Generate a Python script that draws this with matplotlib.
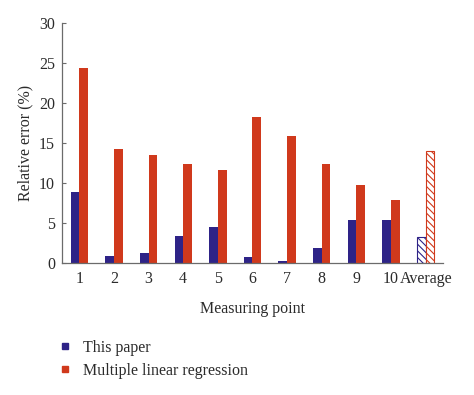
import matplotlib
matplotlib.use("Agg")
import matplotlib.pyplot as plt
import numpy as np
from matplotlib.lines import Line2D

BLUE, RED = "#2e2387", "#d0391c"
AXC, TXT = "#6b6b6b", "#2b2b2b"

points = ["1", "2", "3", "4", "5", "6", "7", "8", "9", "10"]
this_paper = [8.8, 0.8, 1.2, 3.4, 4.5, 0.7, 0.2, 1.8, 5.3, 5.3]
mlr = [24.4, 14.2, 13.45, 12.35, 11.6, 18.3, 15.9, 12.4, 9.7, 7.85]
avg_this_paper = 3.2
avg_mlr = 14.0
avg_label = "Average"

plt.rcParams["font.family"] = ["Liberation Serif", "DejaVu Serif"]
plt.rcParams["font.size"] = 11.5
plt.rcParams["hatch.linewidth"] = 0.8

fig = plt.figure(figsize=(4.74, 3.95), dpi=100)
ax = fig.add_axes([0.1308, 0.335, 0.9346 - 0.1308, 0.941 - 0.335])

x = np.arange(1, len(points) + 1)
w = 0.25
ax.bar(x - w / 2, this_paper, w, color=BLUE)
ax.bar(x + w / 2, mlr, w, color=RED)

xa = len(points) + 1
ax.bar(xa - w / 2, avg_this_paper, w, facecolor="white", edgecolor=BLUE,
       hatch="\\\\\\\\\\", lw=0.8)
ax.bar(xa + w / 2, avg_mlr, w, facecolor="white", edgecolor=RED,
       hatch="\\\\\\\\\\", lw=0.8)

ax.set_xlim(0.5, 11.5)
ax.set_ylim(0, 30)
ax.set_yticks(range(0, 31, 5))
ax.set_xticks(list(x) + [xa])
ax.set_xticklabels(points + [avg_label])
ax.tick_params(axis="x", length=0, pad=6, colors=TXT)
ax.tick_params(axis="y", direction="in", length=3, width=0.8, colors=TXT, pad=5)
ax.tick_params(axis="y", color=AXC)
ax.spines[["top", "right"]].set_visible(False)
for s in ("left", "bottom"):
    ax.spines[s].set_color(AXC)
    ax.spines[s].set_linewidth(0.9)
ax.set_ylabel("Relative error (%)", color=TXT, labelpad=4)
ax.set_xlabel("Measuring point", color=TXT, labelpad=10)

handles = [Line2D([0], [0], marker="s", ls="none", color=BLUE, markersize=4.5, label="This paper"),
           Line2D([0], [0], marker="s", ls="none", color=RED, markersize=4.5,
                  label="Multiple linear regression")]
fig.legend(handles=handles, loc="upper left", bbox_to_anchor=(0.128, 0.14), frameon=False,
           handlelength=0.6, handletextpad=0.8, labelspacing=0.45, labelcolor=TXT,
           borderaxespad=0, borderpad=0)

fig.savefig("out.png", dpi=100)
